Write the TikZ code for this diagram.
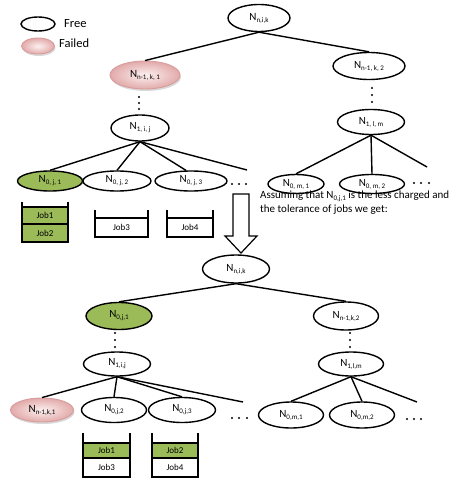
\documentclass[tikz,border=0pt]{standalone}
\usepackage{fontspec}
\setmainfont{Carlito}
\usetikzlibrary{shapes.geometric,shadows}
\definecolor{jgreen}{HTML}{9BBB59}
\definecolor{pinkin}{HTML}{FDF0F0}
\definecolor{pinkout}{HTML}{E2AAAA}
\definecolor{pinkline}{HTML}{D89C9C}
\newcommand{\nsub}[1]{N\raisebox{-.4ex}{\fontsize{7}{8}\selectfont #1}}
\tikzset{
  nd/.style={ellipse, draw=black, line width=1.4pt, inner sep=0pt, fill=white,
             font=\fontsize{11}{13}\selectfont},
  okn/.style={nd, fill=jgreen},
  failn/.style={nd, draw=pinkline, line width=0.9pt, inner color=pinkin, outer color=pinkout,
                drop shadow={shadow xshift=1pt, shadow yshift=-2pt, opacity=0.3}},
  edge/.style={line width=1.4pt},
  cont/.style={line width=1.2pt},
  cell/.style={draw, line width=1.2pt, inner sep=0pt, font=\fontsize{9}{10}\selectfont},
  lbl/.style={font=\fontsize{12.5}{14}\selectfont, inner sep=0pt, anchor=west}
}
\begin{document}
\begin{tikzpicture}[x=1pt,y=-1pt]
\useasboundingbox (0,0) rectangle (474,487);

% legend
\node[nd, minimum width=34, minimum height=14] (lfree) at (38,24) {};
\node[lbl] (tfree) at (64,24) {Free};
\node[failn, minimum width=33, minimum height=16] (lfail) at (38,46) {};
\node[lbl] (tfail) at (59,43) {Failed};

% ---------- top tree ----------
\node[nd, minimum width=62, minimum height=27] (T) at (259,18) {\nsub{n,i,k}};
\node[failn, minimum width=70, minimum height=28] (Tf) at (145,75) {\nsub{n-1, k, 1}};
\node[nd, minimum width=72, minimum height=27] (Tr) at (369,66) {\nsub{n-1, k, 2}};
\node[nd, minimum width=58, minimum height=26] (Tij) at (140,128) {\nsub{1, i, j}};
\node[nd, minimum width=67, minimum height=25] (Tlm) at (371,122) {\nsub{1, l, m}};
\node[okn, minimum width=65, minimum height=20] (A1) at (50,181) {\nsub{0, j, 1}};
\node[nd, minimum width=68, minimum height=20] (A2) at (117,181) {\nsub{0, j, 2}};
\node[nd, minimum width=72, minimum height=20] (A3) at (191,181) {\nsub{0, j, 3}};
\node[nd, minimum width=56, minimum height=19] (B1) at (296,184) {\nsub{0, m, 1}};
\node[nd, minimum width=65, minimum height=19] (B2) at (372,184) {\nsub{0, m, 2}};
\coordinate (Afree) at (247,170);
\coordinate (Bfree) at (427,167);

\draw[edge] (T.south) -- (Tf.north);
\draw[edge] (T.south) -- (Tr.north);
\draw[edge] (Tij.south) -- (A1.north);
\draw[edge] (Tij.south) -- (A2.north);
\draw[edge] (Tij.south) -- (A3.115);
\draw[edge] (Tij.south) -- (Afree);
\draw[edge] (Tlm.south) -- (B1.north);
\draw[edge] (Tlm.south) -- (B2.north);
\draw[edge] (Tlm.south) -- (Bfree);

\foreach \yy in {97,103,109} \fill (139,\yy) circle (1.2pt);
\foreach \yy in {88,95,102} \fill (372,\yy) circle (1.2pt);
\foreach \xx in {232,239,246} \fill (\xx,184) circle (1.2pt);
\foreach \xx in {414,421,429} \fill (\xx,183) circle (1.2pt);

% job containers top
\draw[cont] (22,202) -- (22,242) -- (68,242) -- (68,202);
\node[cell, fill=jgreen, minimum width=46, minimum height=17] (J1a) at (45,215.5) {Job1};
\node[cell, fill=jgreen, minimum width=46, minimum height=18] (J1b) at (45,233) {Job2};
\draw[cont] (95,210) -- (95,237) -- (148,237) -- (148,210);
\node[cell, minimum width=53, minimum height=19] (J3) at (121.5,227.5) {Job3};
\draw[cont] (167,210) -- (167,237) -- (213,237) -- (213,210);
\node[cell, minimum width=46, minimum height=19] (J4) at (190,227.5) {Job4};

% text
\node[anchor=north west, align=left, inner sep=0pt, font=\fontsize{11}{13.5}\selectfont] (txt) at (260,191)
  {Assuming that \nsub{0,j,1} is the less charged and\\the tolerance of jobs we get:};

% big arrow
\draw[line width=1.2pt, fill=white] (233,194) -- (249,194) -- (249,236) -- (257,236) -- (241,253)
  -- (225,236) -- (233,236) -- cycle;

% ---------- bottom tree ----------
\node[nd, minimum width=67, minimum height=28] (M) at (236,269) {\nsub{n,i,k}};
\node[okn, minimum width=66, minimum height=27] (Mg) at (119,316) {\nsub{0,j,1}};
\node[nd, minimum width=65, minimum height=28] (Mr) at (346,316) {\nsub{n-1,k,2}};
\node[nd, minimum width=67, minimum height=24] (Mij) at (117,364) {\nsub{1,i,j}};
\node[nd, minimum width=65, minimum height=24] (Mlm) at (351,364) {\nsub{1,l,m}};
\node[failn, minimum width=63, minimum height=24] (C1) at (42,410) {\nsub{n-1,k,1}};
\node[nd, minimum width=65, minimum height=25] (C2) at (114,410) {\nsub{0,j,2}};
\node[nd, minimum width=67, minimum height=25] (C3) at (182,410) {\nsub{0,j,3}};
\node[nd, minimum width=65, minimum height=26] (D1) at (291,415) {\nsub{0,m,1}};
\node[nd, minimum width=65, minimum height=26] (D2) at (362,415) {\nsub{0,m,2}};
\coordinate (Cfree) at (243,402);
\coordinate (Dfree) at (417,402);

\draw[edge] (M.south) -- (Mg.north);
\draw[edge] (M.south) -- (Mr.north);
\draw[edge] (Mij.south) -- (C1.north);
\draw[edge] (Mij.south) -- (C2.north);
\draw[edge] (Mij.south) -- (C3.north);
\draw[edge] (Mij.south) -- (Cfree);
\draw[edge] (Mlm.south) -- (D1.north);
\draw[edge] (Mlm.south) -- (D2.north);
\draw[edge] (Mlm.south) -- (Dfree);

\foreach \yy in {333,340,347} \fill (115,\yy) circle (1.2pt);
\foreach \yy in {333,340,347} \fill (350,\yy) circle (1.2pt);
\foreach \xx in {232,239,247} \fill (\xx,418) circle (1.2pt);
\foreach \xx in {407,414,421} \fill (\xx,419) circle (1.2pt);

% job containers bottom
\draw[cont] (83,433) -- (83,477) -- (130,477) -- (130,433);
\node[cell, fill=jgreen, minimum width=47, minimum height=15] (K1a) at (106.5,450.5) {Job1};
\node[cell, minimum width=47, minimum height=19] (K1b) at (106.5,467.5) {Job3};
\draw[cont] (152,433) -- (152,477) -- (198,477) -- (198,433);
\node[cell, fill=jgreen, minimum width=46, minimum height=15] (K2a) at (175,450.5) {Job2};
\node[cell, minimum width=46, minimum height=19] (K2b) at (175,467.5) {Job4};
\end{tikzpicture}
\end{document}
